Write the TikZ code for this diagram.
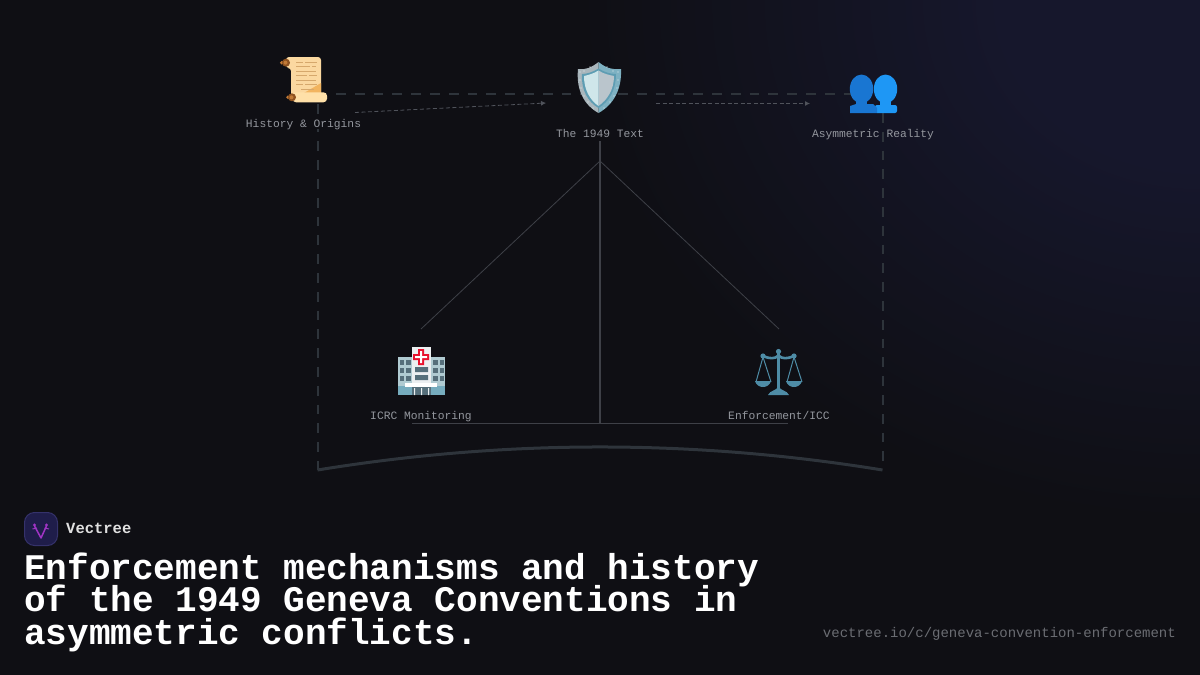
\documentclass[tikz,border=0pt]{standalone}
\usepackage{fontspec}
\setmonofont{Liberation Mono}
\usetikzlibrary{arrows.meta}
\definecolor{bgbase}{HTML}{0F0F14}
\definecolor{bgblue}{HTML}{16172C}
\definecolor{guide}{HTML}{2E343B}
\definecolor{thinline}{HTML}{3E4047}
\definecolor{flowline}{HTML}{50535B}
\definecolor{labeltext}{HTML}{94979E}
\definecolor{urltext}{HTML}{6B6D73}
\definecolor{paper}{HTML}{FBD8A0}
\definecolor{paperroll}{HTML}{FFE0A8}
\definecolor{papershade}{HTML}{F2B45F}
\definecolor{paperline}{HTML}{D6A86C}
\definecolor{knob}{HTML}{8E5220}
\definecolor{knobtip}{HTML}{C27A36}
\definecolor{tealdark}{HTML}{5E9DB3}
\definecolor{shieldrim}{HTML}{A9B6BC}
\definecolor{shieldleft}{HTML}{CFE6EA}
\definecolor{shieldright}{HTML}{BAC5CC}
\definecolor{peopleleft}{HTML}{1976D2}
\definecolor{peopleright}{HTML}{1E97F5}
\definecolor{wing}{HTML}{B0CBD2}
\definecolor{tower}{HTML}{ECEFF1}
\definecolor{windows}{HTML}{566F7B}
\definecolor{steel}{HTML}{4E8CA6}
\definecolor{crossred}{HTML}{E8112D}
\definecolor{logofill}{HTML}{1F1D4A}
\definecolor{logoedge}{HTML}{35326B}
\definecolor{logomark}{HTML}{A034C4}
\pgfdeclareradialshading{cornerglow}{\pgfpoint{0bp}{0bp}}{color(0bp)=(bgblue); color(8bp)=(bgblue); color(25bp)=(bgbase); color(50bp)=(bgbase)}
\tikzset{
	lbl/.style={font=\ttfamily\fontsize{11.28}{13}\selectfont, text=labeltext, inner sep=0pt, anchor=base},
	flow/.style={draw=flowline, line width=0.8pt, dash pattern=on 4pt off 2.5pt, -{Latex[length=5pt,width=5pt]}},
	frame/.style={draw=guide, line width=2pt, dash pattern=on 9.8pt off 9pt},
	tree/.style={draw=thinline, line width=1.2pt},
	branch/.style={draw=thinline, line width=0.8pt},
	heading/.style={inner sep=0pt, anchor=base west, text=white, font=\ttfamily\bfseries\fontsize{36.02}{36}\selectfont}
}
\begin{document}
\begin{tikzpicture}[x=1pt, y=-1pt, line join=round, >=stealth]
	\useasboundingbox (0,0) rectangle (1200,675);
	\fill[bgbase] (0,0) rectangle (1200,675);
	\begin{scope}
		\clip (0,0) rectangle (1200,675);
		\shade[shading=cornerglow] (1200,0) ellipse (620pt and 520pt);
	\end{scope}
	\path 
	(336,94) coordinate (TS)
	(872,94) coordinate (TE)
	(317.5,103.8) coordinate (LS)
	(882.5,113) coordinate (RS)
	(317.5,470) coordinate (BL)
	(882.5,470) coordinate (BR)
	(506,439.3) coordinate (CA)
	(694,439.3) coordinate (CB)
	(600,141) coordinate (ROOT)
	(600,161) coordinate (FORK)
	(421,329) coordinate (LEFT)
	(779,329) coordinate (RIGHT)
	(412,423.5) coordinate (HL)
	(600,423.5) coordinate (HM)
	(788,423.5) coordinate (HR)
	(355,112.5) coordinate (F1)
	(546,103) coordinate (F2)
	(656,103.5) coordinate (F3)
	(810,103.5) coordinate (F4)
	;
	% frame and curve
	\draw[frame] (TS) -- (TE);
	\draw[frame] (LS) -- (BL);
	\draw[frame] (RS) -- (BR);
	\draw[guide, line width=3pt] (BL) .. controls (CA) and (CB) .. (BR);
	% tree
	\draw[tree] (ROOT) -- (HM);
	\draw[tree] (HL) -- (HR);
	\draw[branch] (FORK) -- (LEFT);
	\draw[branch] (FORK) -- (RIGHT);
	\draw[flow] (F1) -- (F2);
	\draw[flow] (F3) -- (F4);
	% scroll
	\fill[paper, rounded corners=3pt] (286,57) -- (321,57) -- (321,96) -- (291,96) -- (291,68) -- (286,68) -- cycle;
	\fill[papershade] (321,83) -- (321,93) -- (304,93) -- cycle;
	\foreach \xa/\xb/\yy in {296/303/62,305/317/62,296/310/66,312/316/66,296/316/71,296/307/75,309/317/75,296/316/80,296/303/84,305/317/84,301/314/89}
	\draw[paperline, line width=0.9pt] (\xa,\yy) -- (\xb,\yy);
	\fill[paperroll, rounded corners=3.5pt] (292.5,92.3) rectangle (327,102.3);
	\fill[knobtip] (281.8,62.7) circle (1.9pt) (288,97.3) circle (1.9pt);
	\fill[knob] (286,62.7) circle (4pt) (292,97.3) circle (4pt);
	\fill[knobtip] (285.5,62.7) circle (2pt) (291.5,97.3) circle (2pt);
	% shield
	\fill[shieldrim] (598.5,62) .. controls (591,68) and (585,70) .. (578,69) .. controls (576,90) and (584,105) .. (598.5,113) -- cycle;
	\fill[tealdark!80!white] (598.5,62) .. controls (606,68) and (612,70) .. (621,69) .. controls (622,90) and (613,105) .. (598.5,113) -- cycle;
	\fill[tealdark] (598.5,68.5) .. controls (604,72) and (610,74) .. (616,74) .. controls (616,90) and (609,102) .. (598.5,108) .. controls (588,102) and (581,90) .. (582,74) .. controls (587,74) and (593,72) .. (598.5,68.5) -- cycle;
	\fill[shieldleft] (598.5,70.5) .. controls (593,74) and (588,75) .. (584,76) .. controls (584,90) and (590,100) .. (598.5,106) -- cycle;
	\fill[shieldright] (598.5,70.5) .. controls (604,74) and (609,75) .. (614,76) .. controls (614,90) and (607,100) .. (598.5,106) -- cycle;
	\foreach \px/\py in {590/67,584/71,580/72,580/80,581/88,584/96,588/102,593/108,607/67,613/71,618/72,618/80,617/88,614/96,610/102,604/108}
	\fill[white!85!tealdark] (\px,\py) circle (0.6pt);
	% people
	\fill[peopleright] (885.5,89) ellipse (11.7pt and 14.5pt);
	\fill[peopleright, rounded corners=2pt] (875,113) -- (875,105) -- (897,105) -- (897,113) -- cycle;
	\fill[peopleright] (880,100) rectangle (891,107);
	\fill[peopleleft] (861.5,89) ellipse (11.7pt and 14.5pt);
	\fill[peopleleft] (850,113) -- (850,106) -- (856,104) -- (873,104) -- (877,108) -- (877,113) -- cycle;
	\fill[peopleleft] (856,100) rectangle (867,106);
	% hospital
	\fill[wing] (398,357) rectangle (445,388);
	\fill[tower] (412,347) rectangle (431,388);
	\foreach \xa in {399.5,406,433,439.5}
	\foreach \ya in {360,368,376}
	\fill[windows] (\xa,\ya) rectangle ++(4.5,5);
	\fill[windows] (415,367) rectangle (428,372) (415,375) rectangle (428,380);
	\fill[tealdark!85!white] (398,386) rectangle (445,395);
	\fill[white] (405,383) rectangle (437,387);
	\fill[windows] (412,387) rectangle (431,395);
	\fill[tower] (414,388) rectangle (415,395) (421,388) rectangle (422,395) (428,388) rectangle (429,395);
	\fill[crossred] (418,349) rectangle (424,365) (413,354) rectangle (429,360);
	\fill[white] (420,351) rectangle (422,363) (415,356) rectangle (427,358);
	% scales
	\fill[steel] (776.8,353) rectangle (780.2,388);
	\fill[steel] (778.5,351.5) circle (2.6pt) (763,356) circle (2.6pt) (794,356) circle (2.6pt);
	\draw[steel, line width=2.6pt] (763,356) .. controls (770,359) and (775,359) .. (778.5,355.5) .. controls (782,359) and (787,359) .. (794,356);
	\draw[steel, line width=1pt] (756,382) -- (763,357) -- (771,382) (787,382) -- (794,357) -- (802,382);
	\fill[steel] (755,381) .. controls (757,389) and (769,389) .. (771,381) -- cycle;
	\fill[steel] (786,381) .. controls (788,389) and (800,389) .. (802,381) -- cycle;
	\fill[steel] (778.5,386) .. controls (780,391) and (787,390) .. (789,395) -- (768,395) .. controls (770,390) and (777,391) .. (778.5,386) -- cycle;
	% labels
	\node[lbl, fill=bgbase] (hist) at (303.5,127) {History \& Origins};
	\foreach \n/\x/\y/\t in {text/600/137/{The 1949 Text},real/873/137/{Asymmetric Reality},icrc/421/419/{ICRC Monitoring},icc/779/419/{Enforcement/ICC}}
	\node[lbl] (\n) at (\x,\y) {\t};
	% logo
	\draw[fill=logofill, draw=logoedge, line width=1pt, rounded corners=10pt] (24.5,512.5) rectangle (57.5,545.5);
	\draw[logomark, line width=1.5pt] (34.5,526) -- (41,538) -- (46.5,526);
	\draw[logomark, line width=1pt] (32.5,529) -- (37,528) (49,529) -- (44.5,528);
	\fill[logomark] (34.5,525) circle (1.7pt) (46.5,525) circle (1.7pt);
	\node[inner sep=0pt, anchor=base west, text=white!88!black, font=\ttfamily\bfseries\fontsize{15.5}{18}\selectfont] (brand) at (66,533) {Vectree};
	% title
	\foreach \n/\y/\t in {one/579.5/{Enforcement mechanisms and history},two/611.5/{of the 1949 Geneva Conventions in},three/644/{asymmetric conflicts.}}
	\node[heading] (\n) at (24,\y) {\t};
	\node[inner sep=0pt, anchor=base east, text=urltext, font=\ttfamily\fontsize{14}{16}\selectfont] (url) at (1176,637) {vectree.io/c/geneva-convention-enforcement};
\end{tikzpicture}
\end{document}
